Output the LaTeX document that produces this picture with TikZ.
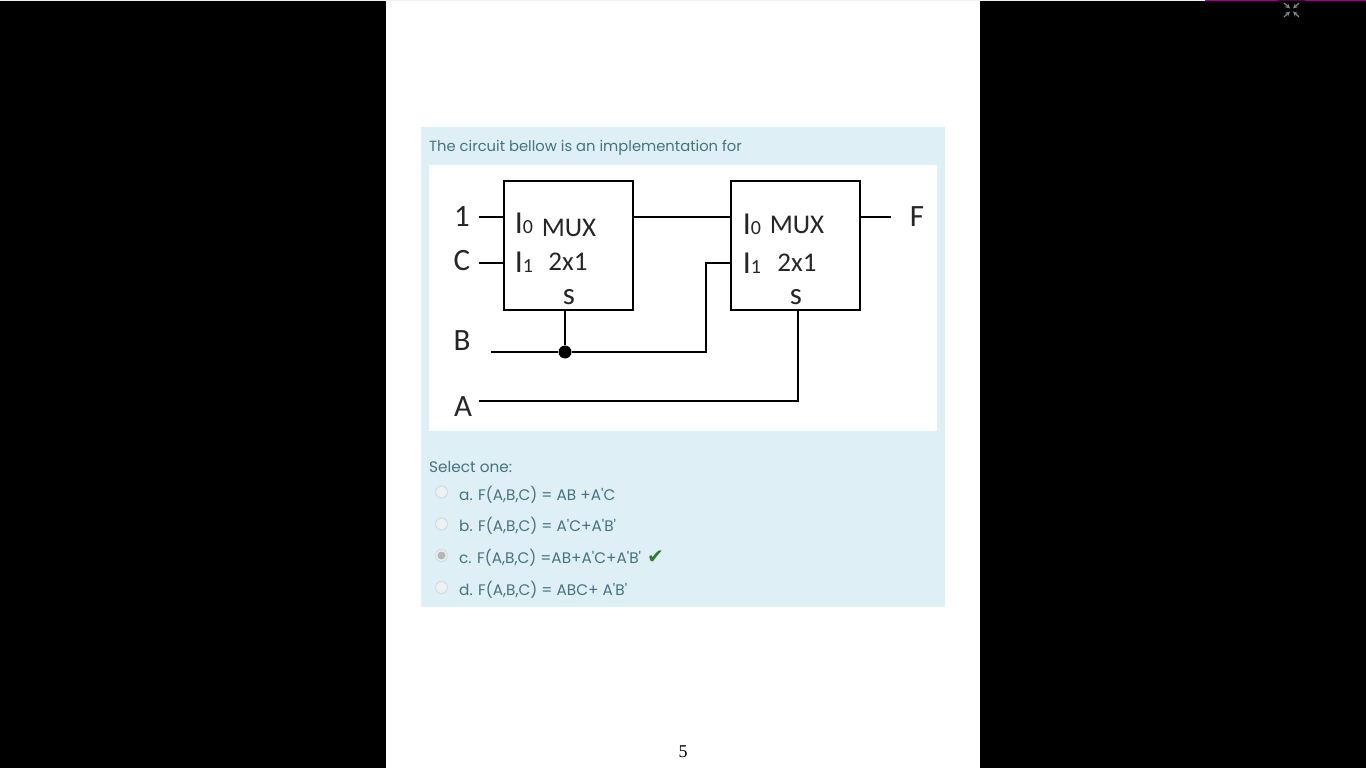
\documentclass[tikz,border=0pt]{standalone}
\usepackage{fontspec}
\setmainfont{Poppins}[Ligatures=TeXOff]
\newfontfamily\circuitfont{Carlito}
\newfontfamily\pagefont{Liberation Serif}
\newfontfamily\symbolfont{DejaVu Sans}
\definecolor{panelblue}{RGB}{222,240,246}
\definecolor{paneltext}{RGB}{70,115,128}
\definecolor{checkgreen}{RGB}{48,125,50}
\definecolor{radioedge}{RGB}{214,220,224}
\definecolor{radiofill}{RGB}{238,241,243}
\definecolor{radiodot}{RGB}{178,182,186}
\definecolor{barpurple}{RGB}{160,0,150}
\definecolor{icongray}{RGB}{135,135,135}
\usetikzlibrary{positioning}
\newcommand{\portpin}[1]{\fontsize{32}{32}\selectfont I\fontsize{20}{20}\selectfont #1}
\tikzset{
  x=1pt, y=-1pt,
  muxbox/.style={draw=black, line width=2pt, minimum size=129pt, inner sep=0pt},
  wire/.style={draw=black, line width=2pt},
  thinwire/.style={draw=black, line width=1.6pt},
  junction/.style={circle, fill=black, inner sep=0pt, minimum size=13pt},
  pinlabel/.style={font=\circuitfont\fontsize{31}{31}\selectfont, text=black!85, inner sep=0pt},
  portlabel/.style={font=\circuitfont\fontsize{27}{27}\selectfont, text=black!85, inner sep=0pt},
  selectlabel/.style={portlabel, font=\circuitfont\fontsize{31}{31}\selectfont},
  paneltextline/.style={font=\fontsize{15.3}{17}\selectfont, text=paneltext, inner sep=0pt, anchor=west},
  radio/.style={circle, draw=radioedge, fill=radiofill, line width=1pt, minimum size=12pt, inner sep=0pt},
  iconarrow/.style={icongray, line width=1.2pt, -stealth},
}
\begin{document}
\begin{tikzpicture}
  \useasboundingbox (0,0) rectangle (1366,768);
  \fill[black] (0,0) rectangle (1366,768);
  \fill[white] (386,0) rectangle (980,768);
  \fill[black!6] (0,0) rectangle (1205,1);
  \fill[panelblue] (421,127) rectangle (945,607);
  \fill[white] (429,165) rectangle (937,431);
  \fill[barpurple] (1205,0) rectangle (1366,1.5);
  \fill[black!50!barpurple] (1278,0) rectangle (1305,1.5);

  % fullscreen icon
  \foreach \sx/\sy in {-1/-1, 1/-1, -1/1, 1/1}{
    \draw[iconarrow] (1291.5+\sx*7.5,10+\sy*7) -- (1291.5+\sx*1.5,10+\sy*1.5);
  }

  \node[paneltextline, font=\fontsize{14.75}{17}\selectfont] (question) at (429,147.5) {The circuit bellow is an implementation for};

  % the two multiplexers
  \node[muxbox] (mux1) at (568,245) {};
  \node[muxbox] (mux2) at (795.5,245) {};

  \node[portlabel] (mux1i0) at (524,223) {\portpin{0}};
  \node[portlabel] (mux1i1) at (524,262) {\portpin{1}};
  \node[portlabel] (mux1name) at (569,228) {MUX};
  \node[portlabel] (mux1size) at (568,262) {2x1};
  \node[selectlabel] (mux1s) at (569,297) {s};
  \node[portlabel] (mux2i0) at (752,224) {\portpin{0}};
  \node[portlabel] (mux2i1) at (752,263) {\portpin{1}};
  \node[portlabel] (mux2name) at (797,225) {MUX};
  \node[portlabel] (mux2size) at (797,263) {2x1};
  \node[selectlabel] (mux2s) at (796,297) {s};

  \node[pinlabel] (one) at (462,217) {1};
  \node[pinlabel] (c) at (462,261) {C};
  \node[pinlabel] (b) at (462,341) {B};
  \node[pinlabel] (a) at (463,407) {A};
  \node[pinlabel] (f) at (917,217) {F};

  \coordinate (onestart) at (479,217);
  \coordinate (cstart) at (479,263);
  \coordinate (bstart) at (491,352);
  \coordinate (astart) at (479,401);
  \coordinate (fend) at (891,217);
  \node[junction] (dot) at (565,352) {};

  \draw[wire] (onestart) -- (onestart -| mux1.west);
  \draw[wire] (cstart) -- (cstart -| mux1.west);
  \draw[wire] (mux1.east |- onestart) -- (mux2.west |- onestart);
  \draw[wire] (mux2.east |- fend) -- (fend);
  \draw[wire] (dot) -- (dot |- mux1.south);
  \draw[wire] (bstart) -- (dot);
  \draw[wire] (dot) -- (706,352) -- (706,263) -- (mux2.west |- cstart);
  \draw[thinwire] (astart) -- (798,401) -- (798,0 |- mux2.south);

  % answers
  \node[paneltextline] (select) at (429,467) {Select one:};
  \node[radio] (radioa) at (441.5,492) {};
  \node[radio] (radiob) at (441.5,524) {};
  \node[radio] (radioc) at (441.5,555.5) {};
  \node[radio] (radiod) at (441.5,587.5) {};
  \fill[radiodot] (radioc) circle (4pt);
  \node[paneltextline] (answera) at (459,494.5) {a. F(A,B,C) = AB +A'C};
  \node[paneltextline] (answerb) at (459,526) {b. F(A,B,C) = A'C+A'B'};
  \node[paneltextline] (answerc) at (459,557.5) {c. F(A,B,C) =AB+A'C+A'B'};
  \node[paneltextline] (answerd) at (459,589.5) {d. F(A,B,C) = ABC+ A'B'};
  \node[inner sep=0pt, text=checkgreen, font=\symbolfont\fontsize{20}{20}\selectfont] (tick) at (655.5,557) {✔};

  \node[inner sep=0pt, font=\pagefont\fontsize{18}{18}\selectfont] (pagenum) at (683,752) {5};
\end{tikzpicture}
\end{document}
